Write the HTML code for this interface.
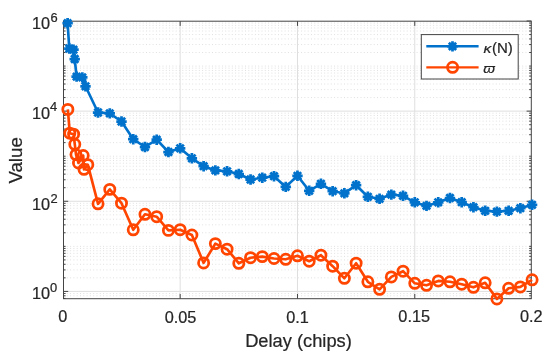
<!DOCTYPE html>
<html><head><meta charset="utf-8"><title>Plot</title>
<style>html,body{margin:0;padding:0;background:#fff}svg{display:block}text{font-family:"Liberation Sans", Arial, Helvetica, sans-serif;fill:#262626;stroke:#262626;stroke-width:0.22px}</style></head><body>
<svg width="550" height="358" viewBox="0 0 550 358">
<rect width="550" height="358" fill="#fff"/>
<path d="M63.5 295.79H531.3M63.5 293.48H531.3M63.5 277.85H531.3M63.5 269.92H531.3M63.5 264.29H531.3M63.5 259.92H531.3M63.5 256.35H531.3M63.5 253.33H531.3M63.5 250.72H531.3M63.5 248.41H531.3M63.5 232.78H531.3M63.5 224.85H531.3M63.5 219.22H531.3M63.5 214.85H531.3M63.5 211.28H531.3M63.5 208.26H531.3M63.5 205.65H531.3M63.5 203.34H531.3M63.5 187.71H531.3M63.5 179.78H531.3M63.5 174.15H531.3M63.5 169.78H531.3M63.5 166.21H531.3M63.5 163.19H531.3M63.5 160.58H531.3M63.5 158.27H531.3M63.5 142.64H531.3M63.5 134.71H531.3M63.5 129.08H531.3M63.5 124.71H531.3M63.5 121.14H531.3M63.5 118.12H531.3M63.5 115.51H531.3M63.5 113.20H531.3M63.5 97.57H531.3M63.5 89.64H531.3M63.5 84.01H531.3M63.5 79.64H531.3M63.5 76.07H531.3M63.5 73.05H531.3M63.5 70.44H531.3M63.5 68.13H531.3M63.5 52.50H531.3M63.5 44.57H531.3M63.5 38.94H531.3M63.5 34.57H531.3M63.5 31.00H531.3M63.5 27.98H531.3M63.5 25.37H531.3M63.5 23.06H531.3M63.5 246.35H531.3M63.5 156.21H531.3M63.5 66.07H531.3" stroke="#e0e0e0" stroke-width="1" stroke-dasharray="1 2.3" fill="none"/>
<path d="M63.5 291.42H531.3M63.5 201.28H531.3M63.5 111.14H531.3M180.16 21.2V298.7M297.47 21.2V298.7M414.78 21.2V298.7" stroke="#dfdfdf" stroke-width="1" fill="none"/>
<path d="M180.16 298.7v-4.7M180.16 21.2v4.7M297.47 298.7v-4.7M297.47 21.2v4.7M414.78 298.7v-4.7M414.78 21.2v4.7M63.5 291.42h4.7M531.3 291.42h-4.7M63.5 246.35h2.1M531.3 246.35h-2.1M63.5 201.28h4.7M531.3 201.28h-4.7M63.5 156.21h2.1M531.3 156.21h-2.1M63.5 111.14h4.7M531.3 111.14h-4.7M63.5 66.07h2.1M531.3 66.07h-2.1M63.5 21.00h4.7M531.3 21.00h-4.7M63.5 298.40h2.1M531.3 298.40h-2.1M63.5 295.79h2.1M531.3 295.79h-2.1M63.5 293.48h2.1M531.3 293.48h-2.1M63.5 277.85h2.1M531.3 277.85h-2.1M63.5 269.92h2.1M531.3 269.92h-2.1M63.5 264.29h2.1M531.3 264.29h-2.1M63.5 259.92h2.1M531.3 259.92h-2.1M63.5 256.35h2.1M531.3 256.35h-2.1M63.5 253.33h2.1M531.3 253.33h-2.1M63.5 250.72h2.1M531.3 250.72h-2.1M63.5 248.41h2.1M531.3 248.41h-2.1M63.5 232.78h2.1M531.3 232.78h-2.1M63.5 224.85h2.1M531.3 224.85h-2.1M63.5 219.22h2.1M531.3 219.22h-2.1M63.5 214.85h2.1M531.3 214.85h-2.1M63.5 211.28h2.1M531.3 211.28h-2.1M63.5 208.26h2.1M531.3 208.26h-2.1M63.5 205.65h2.1M531.3 205.65h-2.1M63.5 203.34h2.1M531.3 203.34h-2.1M63.5 187.71h2.1M531.3 187.71h-2.1M63.5 179.78h2.1M531.3 179.78h-2.1M63.5 174.15h2.1M531.3 174.15h-2.1M63.5 169.78h2.1M531.3 169.78h-2.1M63.5 166.21h2.1M531.3 166.21h-2.1M63.5 163.19h2.1M531.3 163.19h-2.1M63.5 160.58h2.1M531.3 160.58h-2.1M63.5 158.27h2.1M531.3 158.27h-2.1M63.5 142.64h2.1M531.3 142.64h-2.1M63.5 134.71h2.1M531.3 134.71h-2.1M63.5 129.08h2.1M531.3 129.08h-2.1M63.5 124.71h2.1M531.3 124.71h-2.1M63.5 121.14h2.1M531.3 121.14h-2.1M63.5 118.12h2.1M531.3 118.12h-2.1M63.5 115.51h2.1M531.3 115.51h-2.1M63.5 113.20h2.1M531.3 113.20h-2.1M63.5 97.57h2.1M531.3 97.57h-2.1M63.5 89.64h2.1M531.3 89.64h-2.1M63.5 84.01h2.1M531.3 84.01h-2.1M63.5 79.64h2.1M531.3 79.64h-2.1M63.5 76.07h2.1M531.3 76.07h-2.1M63.5 73.05h2.1M531.3 73.05h-2.1M63.5 70.44h2.1M531.3 70.44h-2.1M63.5 68.13h2.1M531.3 68.13h-2.1M63.5 52.50h2.1M531.3 52.50h-2.1M63.5 44.57h2.1M531.3 44.57h-2.1M63.5 38.94h2.1M531.3 38.94h-2.1M63.5 34.57h2.1M531.3 34.57h-2.1M63.5 31.00h2.1M531.3 31.00h-2.1M63.5 27.98h2.1M531.3 27.98h-2.1M63.5 25.37h2.1M531.3 25.37h-2.1M63.5 23.06h2.1M531.3 23.06h-2.1" stroke="#444444" stroke-width="1" fill="none"/>
<rect x="63.5" y="21.2" width="467.8" height="277.5" fill="none" stroke="#444444" stroke-width="1"/>
<polyline points="67.60,23.20 69.30,48.50 73.50,49.70 74.70,59.00 76.60,76.60 82.30,77.40 85.50,86.30 98.04,112.50 109.77,113.40 121.50,121.50 133.24,139.20 144.97,147.00 156.70,139.70 168.43,152.00 180.16,148.30 191.89,158.30 203.62,166.20 215.35,170.40 227.08,171.30 238.81,174.00 250.55,179.50 262.28,177.70 274.01,176.20 285.74,186.90 297.47,175.80 309.20,190.80 320.93,183.80 332.66,191.20 344.39,193.30 356.12,185.20 367.86,196.80 379.59,198.80 391.32,194.60 403.05,195.80 414.78,202.30 426.51,205.90 438.24,202.30 449.97,198.00 461.70,202.20 473.43,207.20 485.17,210.80 496.90,211.60 508.63,210.80 520.36,208.20 532.09,204.80" fill="none" stroke="#0072CC" stroke-width="2.65" stroke-linejoin="round"/>
<path d="M67.60 18.00v10.40M62.40 23.20h10.40M63.92 19.52l7.35 7.35M63.92 26.88l7.35 -7.35M69.30 43.30v10.40M64.10 48.50h10.40M65.62 44.82l7.35 7.35M65.62 52.18l7.35 -7.35M73.50 44.50v10.40M68.30 49.70h10.40M69.82 46.02l7.35 7.35M69.82 53.38l7.35 -7.35M74.70 53.80v10.40M69.50 59.00h10.40M71.02 55.32l7.35 7.35M71.02 62.68l7.35 -7.35M76.60 71.40v10.40M71.40 76.60h10.40M72.92 72.92l7.35 7.35M72.92 80.28l7.35 -7.35M82.30 72.20v10.40M77.10 77.40h10.40M78.62 73.72l7.35 7.35M78.62 81.08l7.35 -7.35M85.50 81.10v10.40M80.30 86.30h10.40M81.82 82.62l7.35 7.35M81.82 89.98l7.35 -7.35M98.04 107.30v10.40M92.84 112.50h10.40M94.36 108.82l7.35 7.35M94.36 116.18l7.35 -7.35M109.77 108.20v10.40M104.57 113.40h10.40M106.09 109.72l7.35 7.35M106.09 117.08l7.35 -7.35M121.50 116.30v10.40M116.30 121.50h10.40M117.82 117.82l7.35 7.35M117.82 125.18l7.35 -7.35M133.24 134.00v10.40M128.04 139.20h10.40M129.56 135.52l7.35 7.35M129.56 142.88l7.35 -7.35M144.97 141.80v10.40M139.77 147.00h10.40M141.29 143.32l7.35 7.35M141.29 150.68l7.35 -7.35M156.70 134.50v10.40M151.50 139.70h10.40M153.02 136.02l7.35 7.35M153.02 143.38l7.35 -7.35M168.43 146.80v10.40M163.23 152.00h10.40M164.75 148.32l7.35 7.35M164.75 155.68l7.35 -7.35M180.16 143.10v10.40M174.96 148.30h10.40M176.48 144.62l7.35 7.35M176.48 151.98l7.35 -7.35M191.89 153.10v10.40M186.69 158.30h10.40M188.21 154.62l7.35 7.35M188.21 161.98l7.35 -7.35M203.62 161.00v10.40M198.42 166.20h10.40M199.94 162.52l7.35 7.35M199.94 169.88l7.35 -7.35M215.35 165.20v10.40M210.15 170.40h10.40M211.67 166.72l7.35 7.35M211.67 174.08l7.35 -7.35M227.08 166.10v10.40M221.88 171.30h10.40M223.40 167.62l7.35 7.35M223.40 174.98l7.35 -7.35M238.81 168.80v10.40M233.61 174.00h10.40M235.13 170.32l7.35 7.35M235.13 177.68l7.35 -7.35M250.55 174.30v10.40M245.35 179.50h10.40M246.87 175.82l7.35 7.35M246.87 183.18l7.35 -7.35M262.28 172.50v10.40M257.08 177.70h10.40M258.60 174.02l7.35 7.35M258.60 181.38l7.35 -7.35M274.01 171.00v10.40M268.81 176.20h10.40M270.33 172.52l7.35 7.35M270.33 179.88l7.35 -7.35M285.74 181.70v10.40M280.54 186.90h10.40M282.06 183.22l7.35 7.35M282.06 190.58l7.35 -7.35M297.47 170.60v10.40M292.27 175.80h10.40M293.79 172.12l7.35 7.35M293.79 179.48l7.35 -7.35M309.20 185.60v10.40M304.00 190.80h10.40M305.52 187.12l7.35 7.35M305.52 194.48l7.35 -7.35M320.93 178.60v10.40M315.73 183.80h10.40M317.25 180.12l7.35 7.35M317.25 187.48l7.35 -7.35M332.66 186.00v10.40M327.46 191.20h10.40M328.98 187.52l7.35 7.35M328.98 194.88l7.35 -7.35M344.39 188.10v10.40M339.19 193.30h10.40M340.71 189.62l7.35 7.35M340.71 196.98l7.35 -7.35M356.12 180.00v10.40M350.92 185.20h10.40M352.44 181.52l7.35 7.35M352.44 188.88l7.35 -7.35M367.86 191.60v10.40M362.66 196.80h10.40M364.18 193.12l7.35 7.35M364.18 200.48l7.35 -7.35M379.59 193.60v10.40M374.39 198.80h10.40M375.91 195.12l7.35 7.35M375.91 202.48l7.35 -7.35M391.32 189.40v10.40M386.12 194.60h10.40M387.64 190.92l7.35 7.35M387.64 198.28l7.35 -7.35M403.05 190.60v10.40M397.85 195.80h10.40M399.37 192.12l7.35 7.35M399.37 199.48l7.35 -7.35M414.78 197.10v10.40M409.58 202.30h10.40M411.10 198.62l7.35 7.35M411.10 205.98l7.35 -7.35M426.51 200.70v10.40M421.31 205.90h10.40M422.83 202.22l7.35 7.35M422.83 209.58l7.35 -7.35M438.24 197.10v10.40M433.04 202.30h10.40M434.56 198.62l7.35 7.35M434.56 205.98l7.35 -7.35M449.97 192.80v10.40M444.77 198.00h10.40M446.29 194.32l7.35 7.35M446.29 201.68l7.35 -7.35M461.70 197.00v10.40M456.50 202.20h10.40M458.02 198.52l7.35 7.35M458.02 205.88l7.35 -7.35M473.43 202.00v10.40M468.23 207.20h10.40M469.75 203.52l7.35 7.35M469.75 210.88l7.35 -7.35M485.17 205.60v10.40M479.97 210.80h10.40M481.49 207.12l7.35 7.35M481.49 214.48l7.35 -7.35M496.90 206.40v10.40M491.70 211.60h10.40M493.22 207.92l7.35 7.35M493.22 215.28l7.35 -7.35M508.63 205.60v10.40M503.43 210.80h10.40M504.95 207.12l7.35 7.35M504.95 214.48l7.35 -7.35M520.36 203.00v10.40M515.16 208.20h10.40M516.68 204.52l7.35 7.35M516.68 211.88l7.35 -7.35M532.09 199.60v10.40M526.89 204.80h10.40M528.41 201.12l7.35 7.35M528.41 208.48l7.35 -7.35" stroke="#0072CC" stroke-width="2.75" fill="none"/>
<polyline points="67.85,109.40 69.80,133.20 73.60,134.20 74.80,144.30 76.00,154.60 78.50,163.00 83.20,155.50 84.00,169.30 87.80,164.70 98.04,203.80 109.77,189.40 121.50,203.20 133.24,229.80 144.97,214.30 156.70,216.70 168.43,230.40 180.16,229.70 191.89,235.00 203.62,262.90 215.35,243.60 227.08,249.20 238.81,263.30 250.55,257.70 262.28,256.60 274.01,258.50 285.74,259.30 297.47,255.80 309.20,261.20 320.93,255.20 332.66,266.20 344.39,278.30 356.12,263.20 367.86,281.80 379.59,289.30 391.32,276.90 403.05,271.20 414.78,283.30 426.51,285.30 438.24,280.90 449.97,281.80 461.70,284.20 473.43,287.30 485.17,282.80 496.90,298.90 508.63,288.30 520.36,286.90 532.09,279.80" fill="none" stroke="#FF4500" stroke-width="2.65" stroke-linejoin="round"/>
<g fill="none" stroke="#FF4500" stroke-width="2.75"><circle cx="67.85" cy="109.40" r="5.1"/><circle cx="69.80" cy="133.20" r="5.1"/><circle cx="73.60" cy="134.20" r="5.1"/><circle cx="74.80" cy="144.30" r="5.1"/><circle cx="76.00" cy="154.60" r="5.1"/><circle cx="78.50" cy="163.00" r="5.1"/><circle cx="83.20" cy="155.50" r="5.1"/><circle cx="84.00" cy="169.30" r="5.1"/><circle cx="87.80" cy="164.70" r="5.1"/><circle cx="98.04" cy="203.80" r="5.1"/><circle cx="109.77" cy="189.40" r="5.1"/><circle cx="121.50" cy="203.20" r="5.1"/><circle cx="133.24" cy="229.80" r="5.1"/><circle cx="144.97" cy="214.30" r="5.1"/><circle cx="156.70" cy="216.70" r="5.1"/><circle cx="168.43" cy="230.40" r="5.1"/><circle cx="180.16" cy="229.70" r="5.1"/><circle cx="191.89" cy="235.00" r="5.1"/><circle cx="203.62" cy="262.90" r="5.1"/><circle cx="215.35" cy="243.60" r="5.1"/><circle cx="227.08" cy="249.20" r="5.1"/><circle cx="238.81" cy="263.30" r="5.1"/><circle cx="250.55" cy="257.70" r="5.1"/><circle cx="262.28" cy="256.60" r="5.1"/><circle cx="274.01" cy="258.50" r="5.1"/><circle cx="285.74" cy="259.30" r="5.1"/><circle cx="297.47" cy="255.80" r="5.1"/><circle cx="309.20" cy="261.20" r="5.1"/><circle cx="320.93" cy="255.20" r="5.1"/><circle cx="332.66" cy="266.20" r="5.1"/><circle cx="344.39" cy="278.30" r="5.1"/><circle cx="356.12" cy="263.20" r="5.1"/><circle cx="367.86" cy="281.80" r="5.1"/><circle cx="379.59" cy="289.30" r="5.1"/><circle cx="391.32" cy="276.90" r="5.1"/><circle cx="403.05" cy="271.20" r="5.1"/><circle cx="414.78" cy="283.30" r="5.1"/><circle cx="426.51" cy="285.30" r="5.1"/><circle cx="438.24" cy="280.90" r="5.1"/><circle cx="449.97" cy="281.80" r="5.1"/><circle cx="461.70" cy="284.20" r="5.1"/><circle cx="473.43" cy="287.30" r="5.1"/><circle cx="485.17" cy="282.80" r="5.1"/><circle cx="496.90" cy="298.90" r="5.1"/><circle cx="508.63" cy="288.30" r="5.1"/><circle cx="520.36" cy="286.90" r="5.1"/><circle cx="532.09" cy="279.80" r="5.1"/></g>
<rect x="421.3" y="34.6" width="96.9" height="44.4" fill="#fff" stroke="#444444" stroke-width="1"/>
<path d="M426.3 46.2H478.6" stroke="#0072CC" stroke-width="2.4"/>
<path d="M452.50 41.20v10.40M447.30 46.40h10.40M448.82 42.72l7.35 7.35M448.82 50.08l7.35 -7.35" stroke="#0072CC" stroke-width="2.75" fill="none"/>
<path d="M426.3 67.4H478.6" stroke="#FF4500" stroke-width="2.4"/>
<g fill="none" stroke="#FF4500" stroke-width="2.75"><circle cx="452.60" cy="67.30" r="5.1"/></g>
<text x="62.9" y="322.0" font-size="16.3" text-anchor="middle">0</text>
<text x="180.6" y="322.6" font-size="16.3" text-anchor="middle">0.05</text>
<text x="297.5" y="322.5" font-size="16.3" text-anchor="middle">0.1</text>
<text x="414.2" y="322.4" font-size="16.3" text-anchor="middle">0.15</text>
<text x="531.3" y="322.4" font-size="16.3" text-anchor="middle">0.2</text>
<text x="50.1" y="299.4" font-size="16.3" text-anchor="end">10</text>
<text x="50.0" y="292.0" font-size="12.9">0</text>
<text x="50.1" y="210.1" font-size="16.3" text-anchor="end">10</text>
<text x="50.4" y="202.6" font-size="12.9">2</text>
<text x="50.1" y="119.2" font-size="16.3" text-anchor="end">10</text>
<text x="49.9" y="111.4" font-size="12.9">4</text>
<text x="50.1" y="29.1" font-size="16.3" text-anchor="end">10</text>
<text x="50.6" y="21.9" font-size="12.9">6</text>
<text x="298.5" y="346.5" font-size="18.3" text-anchor="middle">Delay (chips)</text>
<text transform="translate(22.2,160.4) rotate(-90)" font-size="18.7" text-anchor="middle">Value</text>
<text transform="translate(483.4,52.8) scale(0.95,0.75)" font-size="16.5" font-family="'Liberation Serif', 'DejaVu Serif', serif" font-style="italic">κ</text>
<text x="491.9" y="52.6" font-size="15">(N)</text>
<text transform="translate(483.2,73.1) scale(0.91,0.76)" font-size="16.5" font-family="'Liberation Serif', 'DejaVu Serif', serif" font-style="italic">ϖ</text>
</svg></body></html>
